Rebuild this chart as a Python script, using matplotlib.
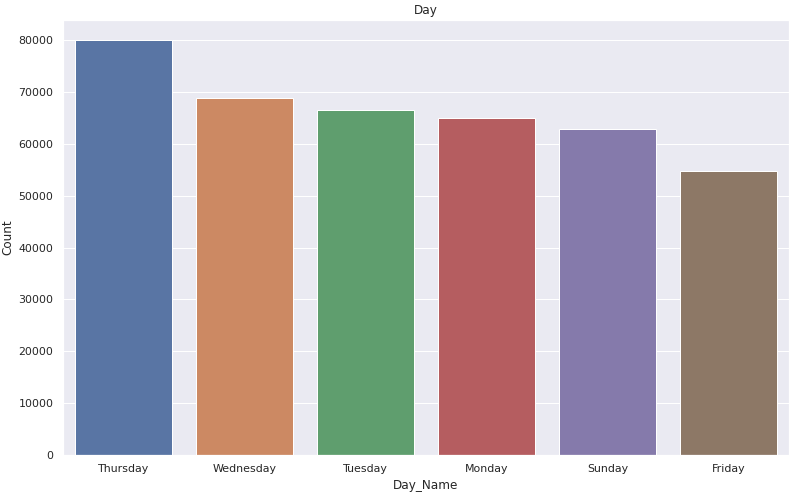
"""
Bar chart of counts per day name
"""

import matplotlib
matplotlib.use("Agg")
import matplotlib.pyplot as plt
import seaborn as sns

days = ["Thursday", "Wednesday", "Tuesday", "Monday", "Sunday", "Friday"]
counts = [80000, 68850, 66540, 64990, 62880, 54730]


def main():
    sns.set_theme(style="darkgrid")

    dpi = 72
    fig = plt.figure(figsize=(794 / dpi, 502 / dpi), dpi=dpi)
    ax = fig.add_axes([63 / 794, 47 / 502, 726 / 794, 435 / 502])

    # seaborn's old bar saturation (0.75) on the deep palette
    colors = [sns.desaturate(c, 0.75) for c in sns.color_palette("deep", len(days))]
    ax.bar(range(len(days)), counts, width=0.8, color=colors,
           edgecolor="white", linewidth=1)

    ax.set_xticks(range(len(days)))
    ax.set_xticklabels(days)
    ax.set_xlim(-0.5, len(days) - 0.5)
    ax.set_ylim(0, 83900)
    ax.xaxis.grid(False)

    ax.set_title("Day")
    ax.set_xlabel("Day_Name")
    ax.set_ylabel("Count")

    fig.savefig("out.png", dpi=dpi)


if __name__ == "__main__":
    main()
